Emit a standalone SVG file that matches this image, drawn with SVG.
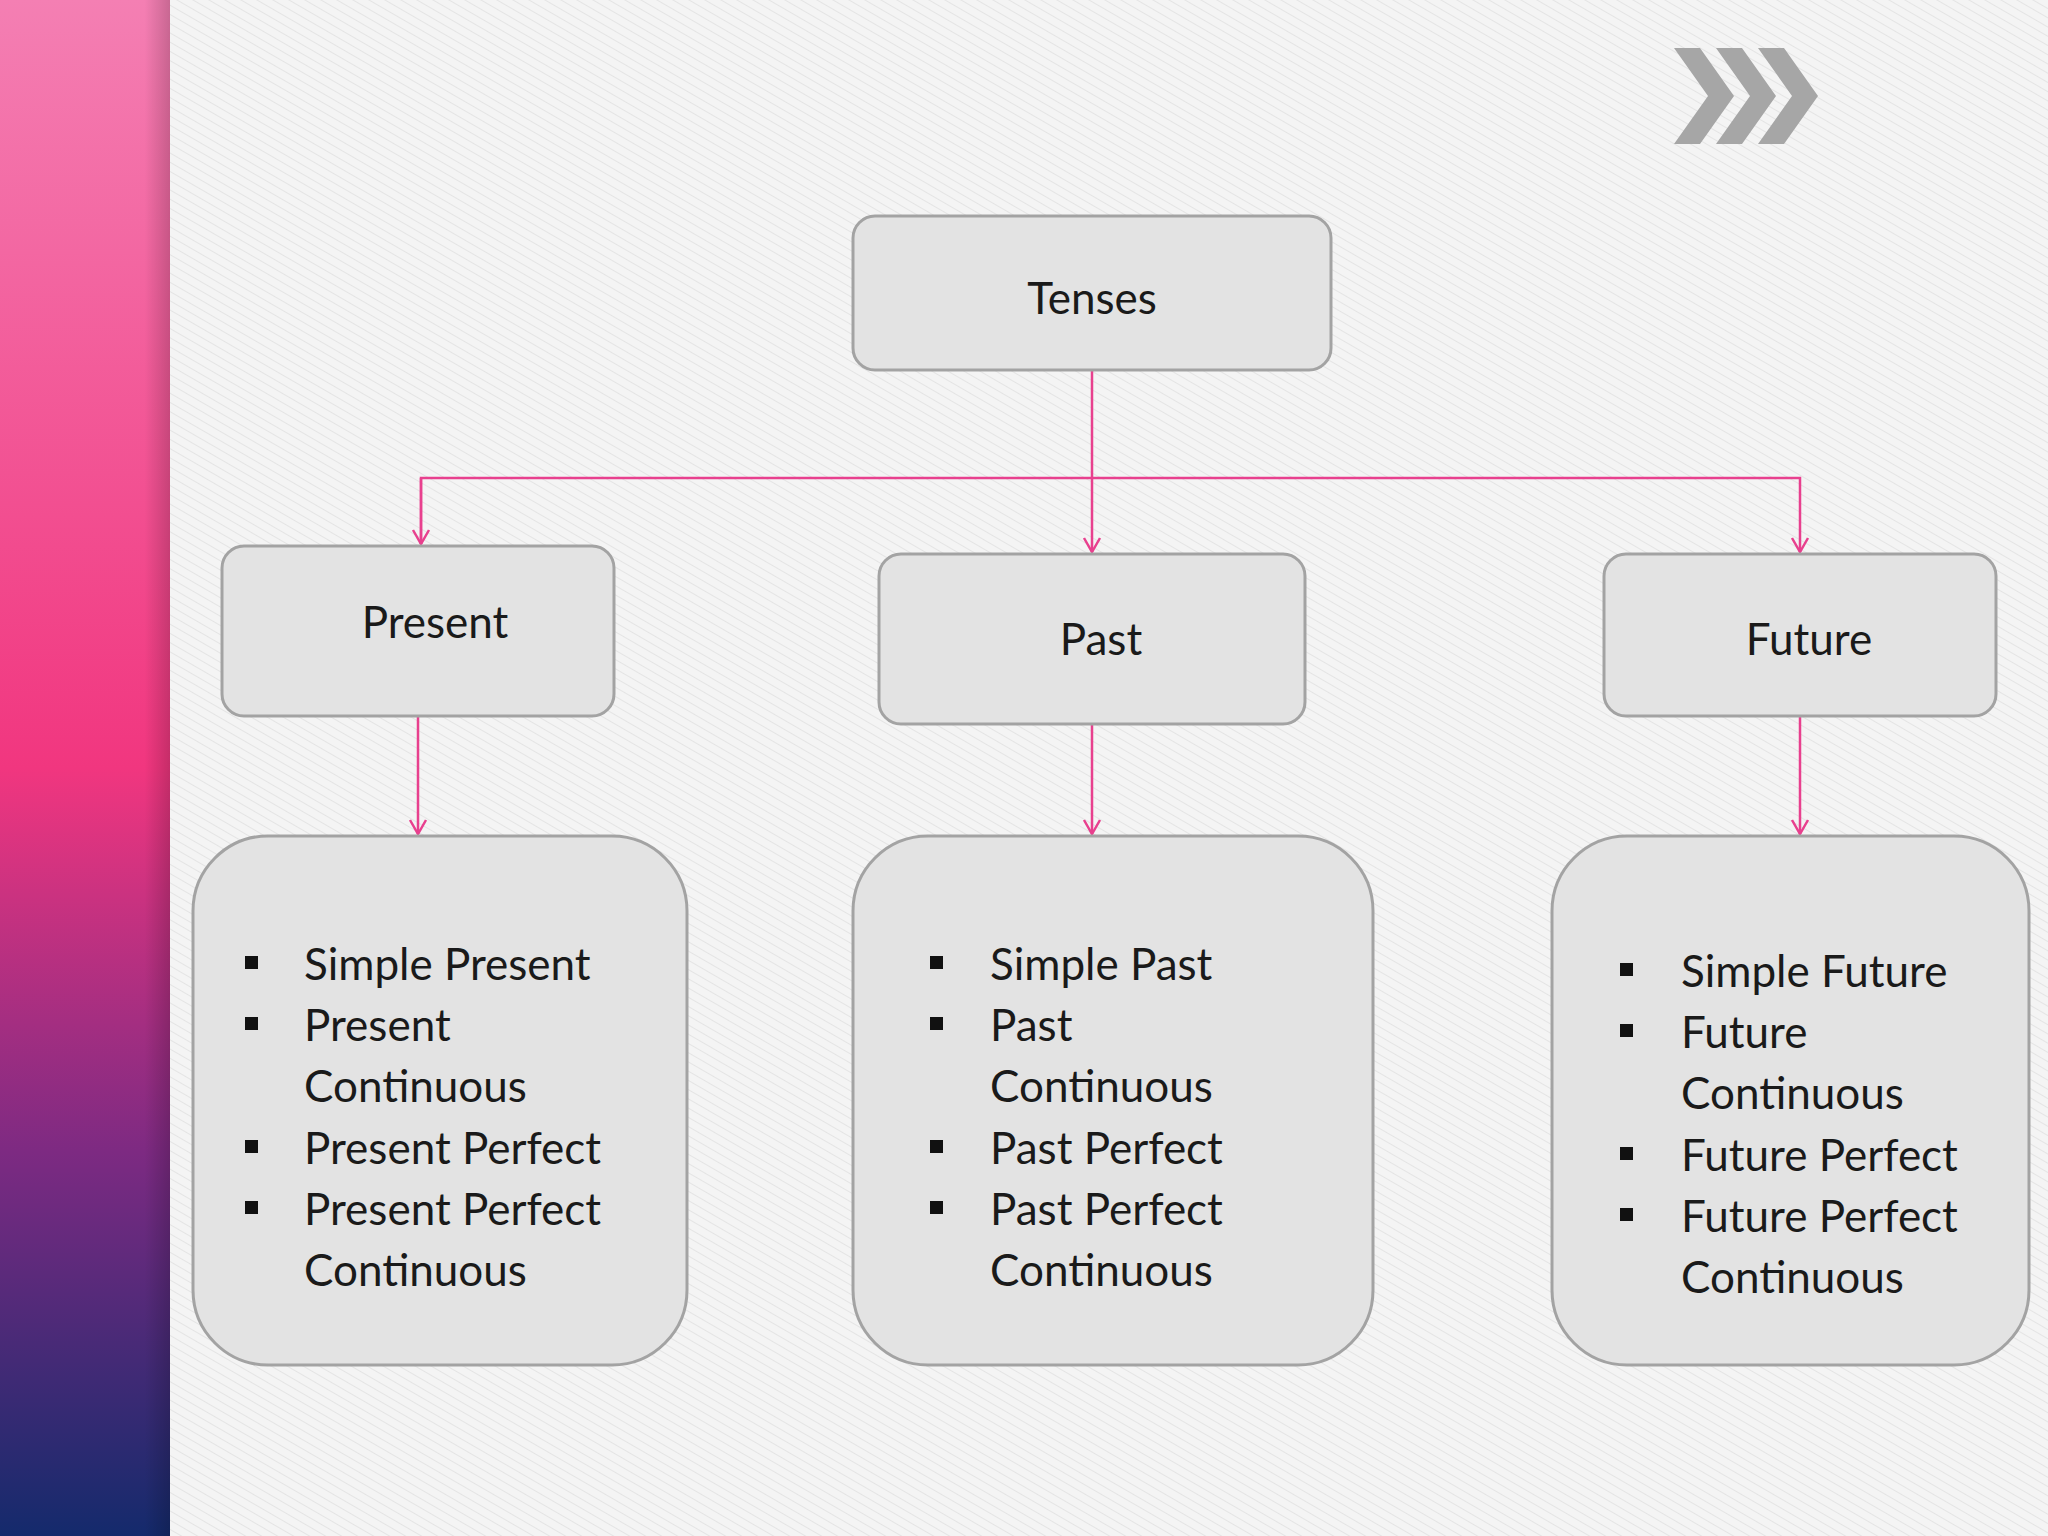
<svg xmlns="http://www.w3.org/2000/svg" width="2048" height="1536" viewBox="0 0 2048 1536">
<defs>
<linearGradient id="bar" x1="0" y1="0" x2="0" y2="1">
<stop offset="0" stop-color="#f47fb3"/><stop offset="0.5" stop-color="#f1367f"/><stop offset="0.75" stop-color="#7d2a82"/><stop offset="1" stop-color="#142a6c"/>
</linearGradient>
<linearGradient id="barEdge" x1="0" y1="0" x2="1" y2="0">
<stop offset="0.85" stop-color="#000" stop-opacity="0"/><stop offset="1" stop-color="#000" stop-opacity="0.18"/>
</linearGradient>
<pattern id="hatch" width="8" height="8" patternUnits="userSpaceOnUse" patternTransform="rotate(-60)">
<rect width="8" height="8" fill="#f4f4f4"/><line x1="0" y1="0" x2="0" y2="8" stroke="#e4e4e4" stroke-width="2"/>
</pattern>
<marker id="ah" viewBox="0 0 20 20" refX="10" refY="18" markerWidth="20" markerHeight="20" markerUnits="userSpaceOnUse" orient="auto-start-reverse">
<path d="M2 4 L10 18 L18 4" fill="none" stroke="#e8408e" stroke-width="2.5"/>
</marker>
<marker id="ad" viewBox="0 0 20 20" refX="10" refY="18" markerWidth="20" markerHeight="20" markerUnits="userSpaceOnUse" orient="0">
<path d="M2 4 L10 18 L18 4" fill="none" stroke="#e8408e" stroke-width="2.5"/>
</marker>
</defs>
<style>
.box{fill:#e3e3e3;stroke:#a3a3a3;stroke-width:3}
.t{font-family:Lato,"Open Sans",sans-serif;font-size:44px;fill:#1a1a1a}
.c{text-anchor:middle}
.b{fill:#111}
.con{fill:none;stroke:#e8408e;stroke-width:2.5}
</style>
<rect width="2048" height="1536" fill="url(#hatch)"/>
<rect x="0" y="0" width="170" height="1536" fill="url(#bar)"/>
<rect x="0" y="0" width="170" height="1536" fill="url(#barEdge)"/>
<g fill="#a6a6a6">
<polygon points="1674,48 1700,48 1734,96 1700,144 1674,144 1708,96"/>
<polygon points="1716,48 1742,48 1776,96 1742,144 1716,144 1750,96"/>
<polygon points="1758,48 1784,48 1818,96 1784,144 1758,144 1792,96"/>
</g>
<g id="connectors">
<path class="con" d="M1092 370 V552" marker-end="url(#ad)"/>
<path class="con" d="M421 544 V478 H1800 V552" marker-end="url(#ad)"/>
<path class="con" d="M421 478 V544" marker-end="url(#ad)"/>
<path class="con" d="M418 716 V834" marker-end="url(#ad)"/>
<path class="con" d="M1092 724 V834" marker-end="url(#ad)"/>
<path class="con" d="M1800 716 V834" marker-end="url(#ad)"/>
</g>
<g id="tenses"><rect class="box" x="853" y="216" width="478" height="154" rx="22"/><text class="t c" x="1092" y="314">Tenses</text></g>
<g id="present"><rect class="box" x="222" y="546" width="392" height="170" rx="22"/><text class="t c" x="435" y="638">Present</text></g>
<g id="past"><rect class="box" x="879" y="554" width="426" height="170" rx="22"/><text class="t c" x="1101" y="655">Past</text></g>
<g id="future"><rect class="box" x="1604" y="554" width="392" height="162" rx="22"/><text class="t c" x="1809" y="655">Future</text></g>
<g id="present-list"><rect class="box" x="193" y="836" width="494" height="529" rx="75"/>
<g class="b"><rect x="245" y="956" width="13" height="13"/><rect x="245" y="1017" width="13" height="13"/><rect x="245" y="1140" width="13" height="13"/><rect x="245" y="1201" width="13" height="13"/></g>
<text class="t" x="304" y="980">Simple Present</text><text class="t" x="304" y="1041">Present</text><text class="t" x="304" y="1102">Continuous</text><text class="t" x="304" y="1164">Present Perfect</text><text class="t" x="304" y="1225">Present Perfect</text><text class="t" x="304" y="1286">Continuous</text></g>
<g id="past-list"><rect class="box" x="853" y="836" width="520" height="529" rx="75"/>
<g class="b"><rect x="930" y="956" width="13" height="13"/><rect x="930" y="1017" width="13" height="13"/><rect x="930" y="1140" width="13" height="13"/><rect x="930" y="1201" width="13" height="13"/></g>
<text class="t" x="990" y="980">Simple Past</text><text class="t" x="990" y="1041">Past</text><text class="t" x="990" y="1102">Continuous</text><text class="t" x="990" y="1164">Past Perfect</text><text class="t" x="990" y="1225">Past Perfect</text><text class="t" x="990" y="1286">Continuous</text></g>
<g id="future-list"><rect class="box" x="1552" y="836" width="477" height="529" rx="75"/>
<g class="b"><rect x="1620" y="963" width="13" height="13"/><rect x="1620" y="1024" width="13" height="13"/><rect x="1620" y="1147" width="13" height="13"/><rect x="1620" y="1208" width="13" height="13"/></g>
<text class="t" x="1681" y="987">Simple Future</text><text class="t" x="1681" y="1048">Future</text><text class="t" x="1681" y="1109">Continuous</text><text class="t" x="1681" y="1171">Future Perfect</text><text class="t" x="1681" y="1232">Future Perfect</text><text class="t" x="1681" y="1293">Continuous</text></g>
</svg>
